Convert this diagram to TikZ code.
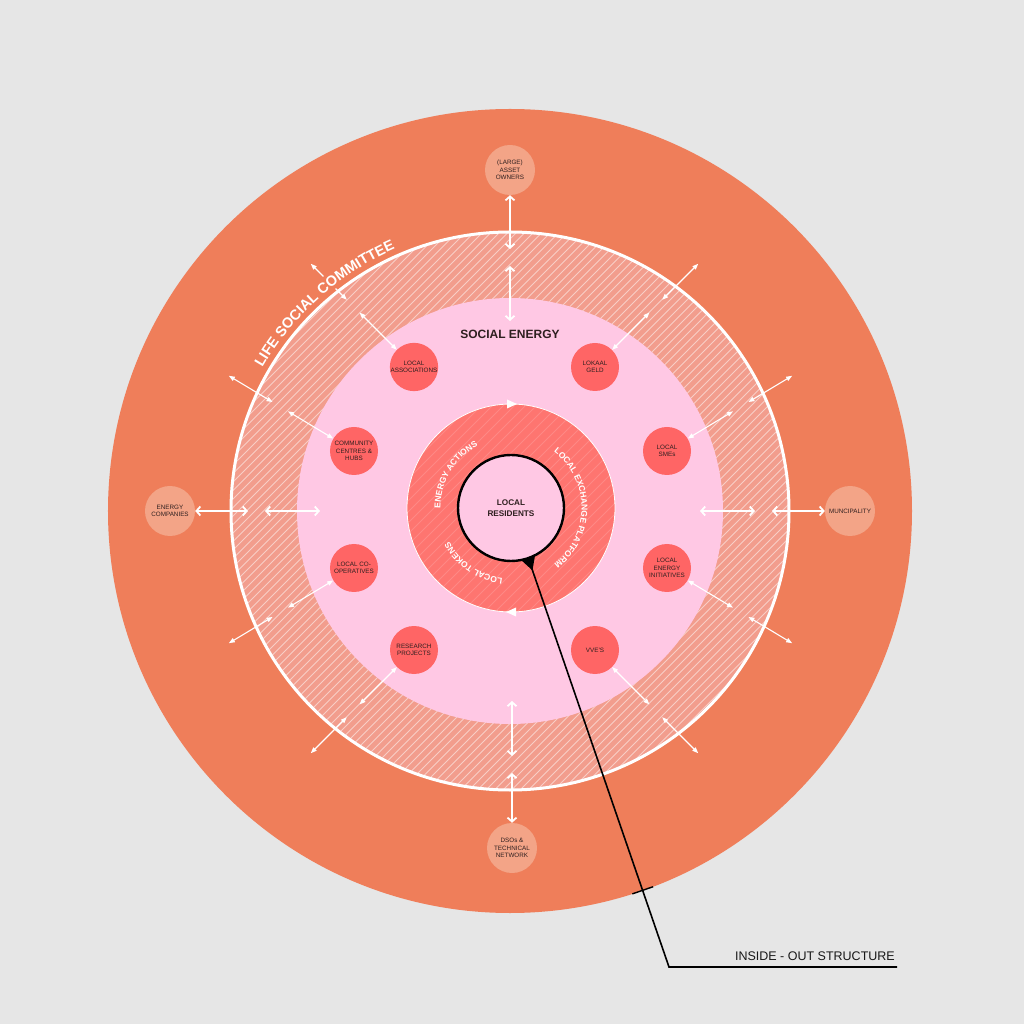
\documentclass[tikz,border=0pt]{standalone}
\usepackage{fontspec}
\setmainfont{Liberation Sans}
\usetikzlibrary{arrows.meta,calc,decorations.text}
\definecolor{bg}{HTML}{E6E6E6}
\definecolor{orng}{HTML}{EF7E5A}
\definecolor{salmon}{HTML}{F29D8D}
\definecolor{pinkc}{HTML}{FFC8E4}
\definecolor{nodered}{HTML}{FF6565}
\definecolor{ringred}{HTML}{FE7570}
\definecolor{outnode}{HTML}{F3A487}
\definecolor{ink}{HTML}{2E1F1F}
\begin{document}
\begin{tikzpicture}[x=1pt,y=1pt,
  sat/.style={circle,fill=nodered,minimum size=48pt,inner sep=0pt,align=center,font=\fontsize{6.3}{7.6}\selectfont,text=ink},
  outnd/.style={circle,fill=outnode,minimum size=50pt,inner sep=0pt,align=center,font=\fontsize{6.3}{7.6}\selectfont,text=ink},
  bigarrow/.style={white,line width=1.8pt,{Straight Barb[length=4pt,width=9pt]}-{Straight Barb[length=4pt,width=9pt]}},
  diagarrow/.style={white,line width=1.1pt,{Triangle[length=6pt,width=4.5pt]}-{Triangle[length=6pt,width=4.5pt]}},
  diagstart/.style={white,line width=1.1pt,{Triangle[length=6pt,width=4.5pt]}-},
  diagend/.style={white,line width=1.1pt,-{Triangle[length=6pt,width=4.5pt]}},
  hatch/.style={white,line width=0.8pt,opacity=0.5},
  faint/.style={white,line width=0.8pt,opacity=0.15},
]
\useasboundingbox (-510,-513) rectangle (514,511);
\fill[bg] (-510,-513) rectangle (514,511);
\coordinate (O) at (0,0);
% outer disc
\fill[orng] (O) circle[radius=402];
% hatched ring
\fill[salmon] (O) circle[radius=279];
\begin{scope}
  \clip (O) circle[radius=279];
  \foreach \c in {-399.5,-391,...,400} {\draw[hatch] (\c-300,-300) -- (\c+300,300);}
\end{scope}
\fill[pinkc] (O) circle[radius=213];
\draw[white,line width=3pt] (O) circle[radius=279];

% inner ring
\coordinate (I) at (1,3);
\fill[ringred] (I) circle[radius=104];
\begin{scope}[shift={(1,3)}]
  \clip (0,0) circle[radius=104];
  \foreach \c in {-154,-143,...,154} {\draw[faint] (\c-120,-120) -- (\c+120,120);}
\end{scope}
\draw[white,line width=0.8pt] (I) circle[radius=104];
\fill[white] (7,107) -- (-3,111.5) -- (-3,102.5) -- cycle;
\fill[white] (-4,-101) -- (6,-96.5) -- (6,-105.5) -- cycle;

\node[circle,draw=black,line width=2.4pt,fill=pinkc,minimum size=106pt,inner sep=0pt,align=center,font=\bfseries\fontsize{8.2}{10.5}\selectfont,text=ink] (res) at (I) {LOCAL\\RESIDENTS};

% ring texts
\path[decorate,decoration={text along path,text align=center,text={|\color{white}\bfseries\fontsize{8.5}{8.5}\selectfont|ENERGY ACTIONS}}]
  ($(I)+(209:70.5)$) arc[start angle=209,end angle=89,radius=70.5];
\path[decorate,decoration={text along path,text align=center,text={|\color{white}\bfseries\fontsize{8.5}{8.5}\selectfont|LOCAL EXCHANGE PLATFORM}}]
  ($(I)+(75:70.5)$) arc[start angle=75,end angle=-75,radius=70.5];
\path[decorate,decoration={text along path,text align=center,text={|\color{white}\bfseries\fontsize{8.5}{8.5}\selectfont|LOCAL TOKENS}}]
  ($(I)+(296:70.5)$) arc[start angle=296,end angle=176,radius=70.5];

\path[decorate,decoration={text along path,text align=center,text={|\color{white}\bfseries\fontsize{14.5}{14.5}\selectfont|LIFE SOCIAL COMMITTEE}}]
  ($(O)+(177:286)$) arc[start angle=177,end angle=86.6,radius=286];

\node[font=\bfseries\fontsize{12}{14}\selectfont,text=ink] (se) at (0,177) {SOCIAL ENERGY};

% satellite nodes
\node[sat] (LA) at (-96,144) {LOCAL\\ASSOCIATIONS};
\node[sat] (LG) at (85,144) {LOKAAL\\GELD};
\node[sat] (CC) at (-156,60) {COMMUNITY\\CENTRES \&\\HUBS};
\node[sat] (SM) at (157,60) {LOCAL\\SMEs};
\node[sat] (CO) at (-156,-57) {LOCAL CO-\\OPERATIVES};
\node[sat] (LE) at (157,-57) {LOCAL\\ENERGY\\INITIATIVES};
\node[sat] (RP) at (-96,-139) {RESEARCH\\PROJECTS};
\node[sat] (VV) at (85,-139) {VVE'S};

% outer nodes
\node[outnd] (AO) at (0,341) {(LARGE)\\ASSET\\OWNERS};
\node[outnd] (EC) at (-340,0) {ENERGY\\COMPANIES};
\node[outnd] (MU) at (340,0) {MUNCIPALITY};
\node[outnd] (DS) at (2,-337) {DSOs \&\\TECHNICAL\\NETWORK};

% axial arrows
\coordinate (tA) at (0,190); \coordinate (tB) at (0,245); \coordinate (tC) at (0,262);
\draw[bigarrow] (tA) -- (tB); \draw[bigarrow] (tC) -- (AO);
\coordinate (bA) at (2,-190); \coordinate (bB) at (2,-245); \coordinate (bC) at (2,-262);
\draw[bigarrow] (bA) -- (bB); \draw[bigarrow] (bC) -- (DS);
\coordinate (lA) at (-190,0); \coordinate (lB) at (-245,0); \coordinate (lC) at (-262,0);
\draw[bigarrow] (lA) -- (lB); \draw[bigarrow] (lC) -- (EC);
\coordinate (rA) at (190,0); \coordinate (rB) at (245,0); \coordinate (rC) at (262,0);
\draw[bigarrow] (rA) -- (rB); \draw[bigarrow] (rC) -- (MU);

% diagonal arrows
\foreach \n/\a in {LA/135,LG/45,CC/149,SM/31,CO/211,LE/329,RP/225,VV/315} {
  \draw[diagarrow] (\n) -- ($(\n.center)+(\a:77)$);
}
\foreach \n/\a in {LG/45,CC/149,SM/31,CO/211,LE/329,RP/225,VV/315} {
  \draw[diagarrow] ($(\n.center)+(\a:95)$) -- ($(\n.center)+(\a:146)$);
}
\draw[diagstart] ($(LA.center)+(135:95)$) -- ($(LA.center)+(135:111)$);
\draw[diagend] ($(LA.center)+(135:128)$) -- ($(LA.center)+(135:146)$);

% pointer
\coordinate (p1) at ($(I)+(-71:55)$);
\coordinate (p2) at (159,-456);
\coordinate (p3) at (387,-456);
\fill[black] ($(I)+(-63:53)$) -- ($(I)+(-79:53)$) -- ($(I)+(-71:66)$) -- cycle;
\draw[black,line width=1.6pt] (p1) -- (p2) -- (p3);
\coordinate (tk) at (132.7,-379.3);
\draw[black,line width=1.4pt] ($(tk)+(19:11)$) -- ($(tk)+(199:11)$);
\node[anchor=base east,font=\fontsize{12.5}{15}\selectfont,text=black!90,inner sep=0pt] (lbl) at (385,-449) {INSIDE - OUT STRUCTURE};
\end{tikzpicture}
\end{document}
